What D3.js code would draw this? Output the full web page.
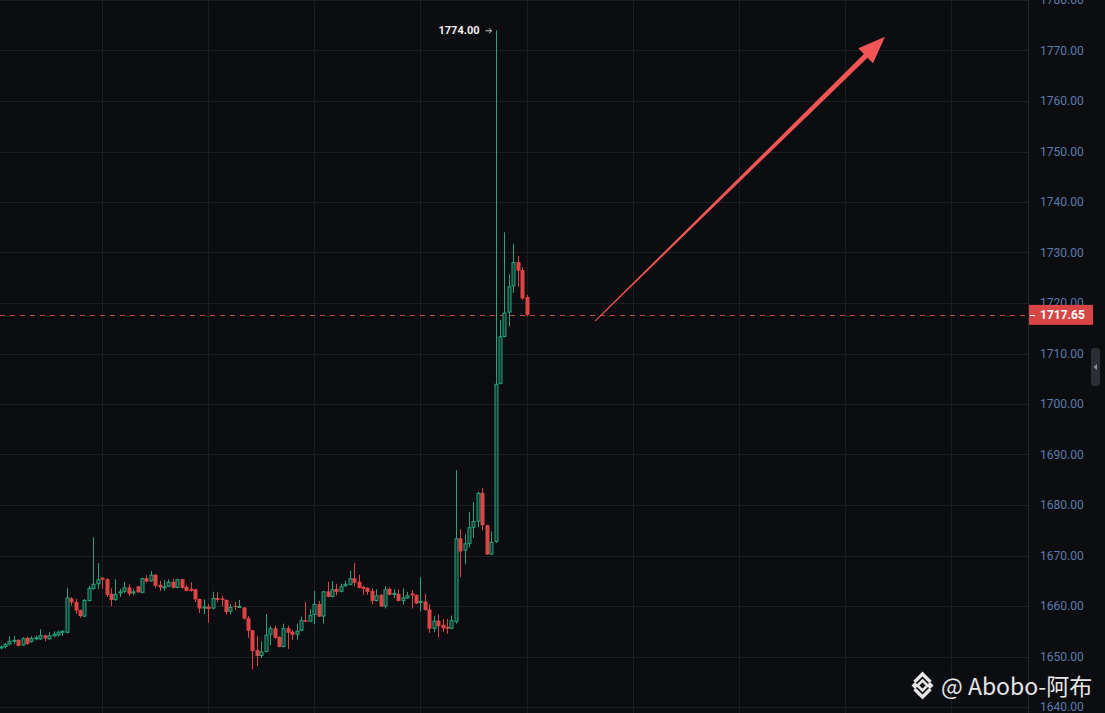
<!DOCTYPE html>
<html>
<head>
<meta charset="utf-8">
<title></title>
<script src="https://cdn.jsdelivr.net/npm/d3@7/dist/d3.min.js"></script>
<style>
  body { margin: 0; background: #0c0d10; overflow: hidden; }
</style>
</head>
<body>
<script>
const width = 1105
const height = 713
const plotRight = 1028

// candles, oldest first (1-minute-ish bars)
const open = [1651.6,1651.9,1652.4,1653.0,1653.3,1652.2,1653.7,1652.9,1653.4,1653.4,
  1654.2,1653.4,1654.0,1654.2,1655.0,1654.7,1661.5,1660.8,1659.2,1657.9,
  1661.0,1663.4,1664.3,1665.6,1665.3,1662.4,1661.2,1662.5,1662.8,1663.7,
  1662.6,1663.9,1662.6,1665.5,1664.9,1666.2,1664.2,1663.7,1663.8,1664.8,
  1663.6,1665.3,1663.8,1663.4,1663.3,1661.4,1659.5,1659.9,1659.5,1661.6,
  1661.5,1661.2,1658.9,1660.0,1659.8,1659.7,1657.6,1655.2,1651.3,1650.1,
  1650.9,1654.3,1655.6,1653.9,1651.9,1655.6,1654.9,1654.3,1655.1,1657.2,
  1656.9,1658.2,1660.4,1657.9,1662.9,1661.8,1663.4,1662.8,1663.9,1664.2,
  1665.5,1664.8,1663.8,1663.6,1663.0,1661.0,1662.2,1659.9,1663.4,1662.2,
  1662.4,1661.0,1661.5,1662.5,1662.2,1660.6,1660.9,1659.3,1655.5,1657.1,
  1656.3,1655.9,1655.5,1656.8,1673.4,1671.0,1672.3,1675.5,1676.7,1682.4,
  1676.0,1670.2,1672.7,1704.0,1713.3,1718.1,1723.3,1728.1,1726.5,1721.2]
const high = [1652.2,1652.7,1654.0,1654.1,1653.4,1653.8,1653.9,1654.0,1654.1,1655.4,
  1654.3,1654.8,1655.0,1655.1,1655.2,1663.6,1661.8,1661.4,1659.3,1661.4,
  1664.0,1673.6,1668.5,1665.7,1665.5,1663.5,1665.3,1663.4,1664.8,1664.3,
  1663.4,1664.0,1665.6,1666.1,1666.9,1666.3,1665.0,1665.1,1665.3,1665.4,
  1665.4,1665.4,1664.2,1664.7,1663.4,1661.5,1661.3,1660.4,1662.8,1662.7,
  1662.0,1661.3,1660.4,1660.8,1661.2,1659.8,1658.0,1655.3,1654.1,1653.0,
  1658.4,1656.0,1656.1,1654.0,1656.5,1656.1,1655.3,1656.5,1657.9,1660.8,
  1659.4,1663.0,1661.0,1663.0,1664.8,1664.9,1664.4,1664.4,1665.0,1667.0,
  1668.5,1666.2,1664.0,1663.7,1663.5,1663.3,1662.4,1663.9,1663.7,1663.3,
  1663.3,1663.5,1662.8,1663.1,1662.3,1665.7,1662.4,1660.3,1658.0,1658.3,
  1657.4,1657.4,1658.1,1686.9,1675.2,1674.2,1678.6,1680.6,1682.6,1683.4,
  1676.1,1674.8,1774.0,1716.6,1734.0,1725.7,1731.7,1729.3,1727.1,1721.6]
const low = [1651.4,1651.6,1652.2,1652.5,1652.0,1652.1,1652.3,1652.7,1653.2,1653.3,
  1653.0,1653.3,1653.8,1654.0,1654.1,1654.6,1660.1,1658.4,1657.7,1657.8,
  1660.9,1663.2,1663.4,1663.4,1661.8,1660.0,1661.0,1661.8,1662.6,1662.0,
  1662.2,1662.6,1662.5,1664.7,1664.8,1663.6,1663.0,1663.0,1663.7,1663.5,
  1663.5,1663.4,1662.9,1662.9,1660.8,1658.6,1658.4,1656.7,1659.3,1660.7,
  1659.9,1658.3,1658.3,1659.2,1659.6,1657.3,1653.7,1647.5,1648.1,1649.7,
  1650.8,1652.2,1653.5,1651.8,1651.8,1651.5,1653.3,1653.3,1655.0,1656.8,
  1656.8,1656.4,1657.8,1656.5,1661.7,1661.7,1662.1,1662.7,1663.8,1664.1,
  1663.9,1663.5,1662.2,1662.2,1660.3,1660.9,1659.8,1659.5,1662.1,1661.6,
  1660.9,1660.3,1661.4,1659.5,1660.4,1658.9,1659.1,1654.7,1654.8,1653.8,
  1654.9,1654.5,1655.4,1656.5,1665.7,1668.3,1671.6,1673.5,1675.6,1675.0,
  1670.1,1670.1,1672.5,1703.9,1713.2,1715.4,1722.0,1723.2,1720.6,1717.4]
const close = [1652.0,1652.5,1653.1,1653.3,1652.1,1653.6,1652.5,1653.7,1653.8,1654.2,
  1653.6,1654.2,1654.5,1654.9,1655.1,1661.7,1660.7,1659.1,1658.0,1661.2,
  1663.6,1664.4,1665.3,1665.2,1662.2,1661.2,1662.4,1662.9,1663.7,1662.4,
  1662.9,1662.7,1665.5,1664.8,1666.2,1664.0,1663.7,1663.9,1664.8,1663.6,
  1665.3,1663.6,1663.0,1663.0,1661.3,1659.5,1659.9,1659.4,1661.6,1661.2,
  1661.2,1658.8,1659.8,1659.8,1660.0,1657.5,1655.1,1651.1,1650.1,1651.0,
  1654.3,1655.6,1653.7,1651.9,1655.6,1654.7,1654.3,1655.1,1657.2,1656.9,
  1658.2,1660.4,1657.9,1662.9,1661.8,1663.3,1662.8,1663.9,1664.4,1665.5,
  1664.6,1663.6,1663.4,1662.8,1661.0,1662.1,1659.9,1663.3,1662.2,1662.6,
  1661.0,1661.7,1662.1,1662.1,1660.5,1661.0,1659.2,1655.5,1657.1,1656.0,
  1655.6,1655.5,1657.2,1673.4,1670.8,1672.4,1675.6,1676.8,1682.4,1676.0,
  1670.2,1672.7,1704.0,1713.4,1718.1,1723.3,1728.1,1726.4,1720.9,1717.65]

const priceTicks = [1640,1650,1660,1670,1680,1690,1700,1710,1720,1730,1740,1750,1760,1770,1780]
const lastPrice = 1717.65
const peakPrice = 1774.00
const peakIndex = 112
// time grid every 24 bars
const timeGrid = [23,47,71,95,119,143,167,191,215]
// hand-drawn arrow, in bar index / price
const arrowFrom = { i: 134.5, p: 1716.4 }
const arrowTo = { i: 200.1, p: 1772.7 }

const green = '#26a47c'
const red = '#dd4545'

const svg = d3.select('body').append('svg')
  .attr('width', width)
  .attr('height', height)
  .style('display', 'block')
  .style('font-family', 'Roboto, "Noto Sans", sans-serif')

svg.append('rect').attr('width', width).attr('height', height).attr('fill', '#0c0d10')

const x = d3.scaleLinear().domain([0, open.length - 1]).range([0.5, 526.5])
const y = d3.scaleLinear().domain([1640, 1780]).range([707, 0])
const crisp = v => Math.round(v) + 0.5

// grid
svg.append('g').selectAll('line').data(priceTicks).join('line')
  .attr('x1', 0).attr('x2', plotRight)
  .attr('y1', d => crisp(y(d))).attr('y2', d => crisp(y(d)))
  .attr('stroke', '#1c1e23')
svg.append('g').selectAll('line').data(timeGrid).join('line')
  .attr('x1', d => crisp(x(d))).attr('x2', d => crisp(x(d)))
  .attr('y1', 0).attr('y2', height)
  .attr('stroke', '#1c1e23')

// last price dashed line
svg.append('line')
  .attr('x1', 0).attr('x2', plotRight)
  .attr('y1', crisp(y(lastPrice))).attr('y2', crisp(y(lastPrice)))
  .attr('stroke', '#c04848').attr('stroke-dasharray', '5,5')

// candles
const bars = d3.range(open.length).map(i => ({ i, o: open[i], h: high[i], l: low[i], c: close[i] }))
const cg = svg.append('g')
cg.selectAll('line').data(bars).join('line')
  .attr('x1', d => crisp(x(d.i))).attr('x2', d => crisp(x(d.i)))
  .attr('y1', d => y(d.h)).attr('y2', d => y(d.l))
  .attr('stroke', d => d.c >= d.o ? green : red)
cg.selectAll('rect').data(bars).join('rect')
  .attr('x', d => d.c >= d.o ? Math.round(x(d.i)) - 1 : Math.round(x(d.i)) - 1.5)
  .attr('width', d => d.c >= d.o ? 3 : 4)
  .attr('y', d => d.c >= d.o ? y(Math.max(d.o, d.c)) + 0.5 : y(Math.max(d.o, d.c)))
  .attr('height', d => Math.max(1, Math.abs(y(d.o) - y(d.c)) - (d.c >= d.o ? 1 : 0)))
  .attr('fill', d => d.c >= d.o ? '#113b2e' : red)
  .attr('stroke', d => d.c >= d.o ? green : 'none')
  .attr('stroke-width', 1)

// peak label
const px = x(peakIndex)
const py = y(peakPrice)
svg.append('text')
  .attr('x', px - 16).attr('y', py)
  .attr('dy', '0.35em')
  .attr('text-anchor', 'end')
  .attr('fill', '#f0f0f0')
  .attr('font-size', 11)
  .attr('font-weight', 'bold')
  .text(peakPrice.toFixed(2))
svg.append('path')
  .attr('d', `M${px - 10},${py + 0.5}H${px - 4}M${px - 6.5},${py - 2}L${px - 4},${py + 0.5}L${px - 6.5},${py + 3}`)
  .attr('stroke', '#d0d0d0').attr('fill', 'none').attr('stroke-width', 1)

// the red arrow
const ax0 = x(arrowFrom.i), ay0 = y(arrowFrom.p)
const ax1 = x(arrowTo.i), ay1 = y(arrowTo.p)
const len = Math.hypot(ax1 - ax0, ay1 - ay0)
const ux = (ax1 - ax0) / len, uy = (ay1 - ay0) / len
const nx = -uy, ny = ux
const headLen = 27, headW = 10.5
const bx = ax1 - ux * headLen, by = ay1 - uy * headLen
const w0 = 0.5, w1 = 2.6
svg.append('path')
  .attr('d', d3.line()([
    [ax0 + nx * w0, ay0 + ny * w0],
    [bx + nx * w1, by + ny * w1],
    [bx + nx * headW, by + ny * headW],
    [ax1, ay1],
    [bx - nx * headW, by - ny * headW],
    [bx - nx * w1, by - ny * w1],
    [ax0 - nx * w0, ay0 - ny * w0]
  ]) + 'Z')
  .attr('fill', '#f25555')

// price axis
svg.append('rect').attr('x', plotRight).attr('y', 0).attr('width', width - plotRight).attr('height', height).attr('fill', '#0c0d10')
svg.append('line').attr('x1', plotRight + 0.5).attr('x2', plotRight + 0.5).attr('y1', 0).attr('y2', height).attr('stroke', '#23262d')
const axis = svg.append('g')
  .attr('transform', `translate(${plotRight},0)`)
  .call(d3.axisRight(y).tickValues(priceTicks).tickSize(0).tickPadding(12).tickFormat(d3.format('.2f')))
axis.select('.domain').remove()
axis.selectAll('text')
  .attr('fill', '#5b7cab')
  .attr('font-size', 12)
  .attr('font-family', 'Roboto, sans-serif')

// last price label
const ly = y(lastPrice)
svg.append('rect')
  .attr('x', plotRight + 1).attr('y', ly - 10).attr('width', 64).attr('height', 20)
  .attr('fill', '#d84545')
svg.append('line')
  .attr('x1', plotRight + 2).attr('x2', plotRight + 7)
  .attr('y1', crisp(ly)).attr('y2', crisp(ly))
  .attr('stroke', '#ffffff')
svg.append('text')
  .attr('x', plotRight + 12).attr('y', ly)
  .attr('dy', '0.35em')
  .attr('fill', '#ffffff')
  .attr('font-size', 12)
  .attr('font-weight', 'bold')
  .text(lastPrice.toFixed(2))

// scroll handle on the right edge
svg.append('rect').attr('x', 1091).attr('y', 348).attr('width', 9).attr('height', 38).attr('rx', 3).attr('fill', '#2b2e36')
svg.append('path').attr('d', 'M1097,364L1093.5,367L1097,370Z').attr('fill', '#8a8e99')

// watermark
const wm = svg.append('g').attr('transform', 'translate(922.5,685.5)').attr('fill', '#e6e6e6')
wm.append('path').attr('d', 'M-11,0L-7.5,-3.5L-4,0L-7.5,3.5Z')
wm.append('path').attr('d', 'M11,0L7.5,-3.5L4,0L7.5,3.5Z')
wm.append('path').attr('d', 'M0,-5L5,0L0,5L-5,0Z').attr('fill', 'none').attr('stroke', '#e6e6e6').attr('stroke-width', 2.6)
wm.append('path').attr('d', 'M-8,-3.5L0,-11.5L8,-3.5').attr('fill', 'none').attr('stroke', '#e6e6e6').attr('stroke-width', 3.4)
wm.append('path').attr('d', 'M-8,3.5L0,11.5L8,3.5').attr('fill', 'none').attr('stroke', '#e6e6e6').attr('stroke-width', 3.4)
svg.append('text')
  .attr('x', 941).attr('y', 695)
  .attr('fill', '#e6e6e6')
  .attr('font-size', 23)
  .attr('font-family', '"Noto Sans CJK SC", "Noto Sans", sans-serif')
  .text('@ Abobo-阿布')
</script>
</body>
</html>
